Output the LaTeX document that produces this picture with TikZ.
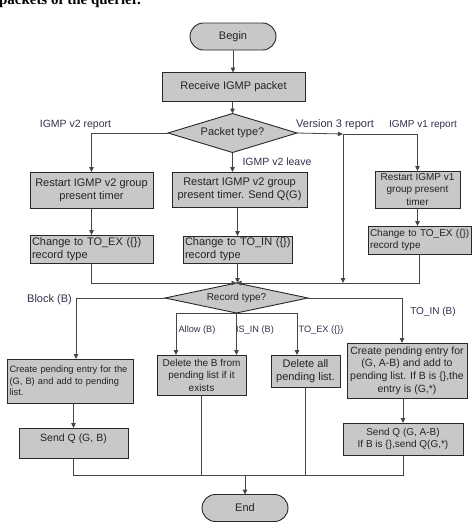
\documentclass[tikz,border=0pt]{standalone}
\usepackage{fontspec}
\setmainfont{Liberation Sans}
\newfontfamily\paperserif{Liberation Serif}
\usetikzlibrary{shapes.geometric,shapes.misc,arrows.meta,calc,shadows}
\definecolor{boxfill}{RGB}{200,200,200}
\definecolor{boxline}{RGB}{40,40,40}
\definecolor{wire}{RGB}{70,70,70}
\definecolor{txt}{RGB}{35,35,35}
\definecolor{labc}{RGB}{55,45,75}
\begin{document}
\begin{tikzpicture}[x=1pt,y=-1pt,
  every node/.style={inner sep=0pt,outer sep=0pt},
  fsa/.style={font=\fontsize{11}{13}\selectfont},
  fsb/.style={font=\fontsize{10.5}{12.7}\selectfont},
  fsc/.style={font=\fontsize{10}{12.5}\selectfont},
  fsd/.style={font=\fontsize{9.3}{11.5}\selectfont},
  fse/.style={font=\fontsize{9.2}{11}\selectfont},
  proc/.style={rectangle,draw=boxline,line width=0.9pt,fill=boxfill,text=txt,align=center,
    drop shadow={shadow xshift=0.9pt,shadow yshift=-0.9pt,opacity=1,fill=black!75}},
  term/.style={rounded rectangle,draw=boxline,line width=0.9pt,fill=boxfill,text=txt,fsa,
    minimum width=86pt,minimum height=27pt},
  dec/.style={diamond,draw=boxline,line width=0.9pt,fill=boxfill,text=txt,aspect=3.5},
  wireline/.style={draw=wire,line width=0.8pt},
  arr/.style={wireline,-{Triangle[length=5pt,width=4.5pt]}},
  lab/.style={text=labc},
]
\useasboundingbox (0,0) rectangle (474,523);

% cut-off line of the paper text above the figure
\node[anchor=base west,font=\paperserif\bfseries\fontsize{15}{17}\selectfont] (papertext) at (-1,4) {packets of the querier.};

% nodes
\node[term] (begin) at (233,36.5) {Begin};
\node[proc,fsa,minimum width=143pt,minimum height=29pt] (recv) at (233.5,87) {Receive IGMP packet};
\node[dec,fsa,minimum width=129pt,minimum height=39pt] (pt) at (232.5,133) {Packet type?};

\node[proc,fsa,minimum width=123pt,minimum height=36pt] (b1) at (91.5,190) {Restart IGMP v2 group\\present timer};
\node[proc,fsa,align=left,text width=119pt,inner xsep=2pt,minimum height=28pt] (b2) at (91.5,249) {\mbox{Change to TO\_EX (\{\})}\\record type};
\node[proc,fsa,minimum width=135pt,minimum height=35pt] (b3) at (239.5,189.5) {Restart IGMP v2 group\\present timer. Send Q(G)};
\node[proc,fsa,align=left,text width=105pt,inner xsep=2pt,minimum height=27pt] (b4) at (237.5,249.5) {\mbox{Change to TO\_IN (\{\})}\\record type};
\node[proc,fsc,minimum width=85pt,minimum height=37pt] (b5) at (417.5,189.5) {Restart IGMP v1\\group present\\timer};
\node[proc,fsc,align=left,text width=99pt,inner xsep=2pt,minimum height=28pt] (b6) at (419.5,240) {\mbox{Change to TO\_EX (\{\})}\\record type};

\node[dec,fsc,minimum width=143pt,minimum height=30pt] (rt) at (236.5,298) {Record type?};

\node[proc,fsd,align=left,text width=121pt,inner xsep=2.5pt,minimum height=44pt] (b7) at (70,381) {\mbox{Create pending entry for the}\\\mbox{(G, B) and add to pending}\\list.};
\node[proc,fsc,minimum width=89pt,minimum height=40pt] (b8) at (201.5,375) {Delete the B from\\pending list if it\\exists};
\node[proc,fsa,minimum width=69pt,minimum height=32pt] (b9) at (305.5,371) {Delete all\\pending list.};
\node[proc,fsb,minimum width=120pt,minimum height=55pt] (b10) at (407,370.5) {Create pending entry for\\(G, A-B) and add to\\pending list. If B is \{\},the\\entry is (G,*)};
\node[proc,fsb,minimum width=109pt,inner ysep=2pt,text height=11pt,text depth=15pt] (b11) at (73.5,443) {Send Q (G, B)};
\node[proc,fsc,minimum width=120pt,minimum height=32pt] (b12) at (403,439) {Send Q (G, A-B)\\If B is \{\},send Q(G,*)};
\node[term] (end) at (245,508) {End};

% branch labels
\node[lab,fsb] (l1) at (75.5,125) {IGMP v2 report};
\node[lab,fsb] (l2) at (277,162) {IGMP v2 leave};
\node[lab,fsa] (l3) at (335,125) {Version 3 report};
\node[lab,fsc] (l4) at (423,125) {IGMP v1 report};
\node[lab,fsa] (l5) at (49.5,300) {Block (B)};
\node[lab,fse] (l6) at (197,330) {Allow (B)};
\node[lab,fse] (l7) at (255,330) {IS\_IN (B)};
\node[lab,fse] (l8) at (321,330) {TO\_EX (\{\})};
\node[lab,fsc] (l9) at (433,312) {TO\_IN (B)};

% junction coordinates
\coordinate (v3) at (343,134);
\coordinate (ha) at (176,313);
\coordinate (hb) at (297,313);
\coordinate (hl) at (73.5,475);
\coordinate (hr) at (403,475);
\coordinate (m) at ($(end.north)+(0,-19)$);

% connectors
\draw[arr] (begin.south) -- (begin.south |- recv.north);
\draw[arr] (pt.north |- recv.south) -- (pt.north);
\draw[arr] (pt.west) -| (b1.north);
\draw[arr] (pt.south) -- (pt.south |- b3.north);
\draw[arr] (pt.east) -- (v3);
\draw[arr] (v3) -- (v3 |- rt.north);
\draw[arr] (v3) -| (b5.north);
\draw[arr] (b1.south) -- (b2.north);
\draw[arr] (b4.north |- b3.south) -- (b4.north);
\draw[arr] (b5.south) -- (b5.south |- b6.north);
\draw[arr] (b2.south) |- (rt.north);
\draw[arr] (b6.south) |- (rt.north);
\draw[arr] (b4.south) -- (b4.south |- rt.north);
\draw[arr] (rt.west) -| ($(b7.north)+(6,0)$);
\draw[arr] (rt.east) -| ($(b10.north)+(-5,0)$);
\draw[wireline] (ha) -- (hb);
\draw[arr] (ha) -- (ha |- b8.north);
\draw[arr] (rt.south) -- (rt.south |- b8.north);
\draw[arr] (hb) -- (hb |- b9.north);
\draw[arr] (b11.north |- b7.south) -- (b11.north);
\draw[arr] (b12.north |- b10.south) -- (b12.north);
\draw[wireline] (b11.south) -- (hl) -- (hr) -- (b12.south);
\draw[wireline] (b8.south) -- (b8.south |- hl);
\draw[wireline] (b9.south) -- (b9.south |- hl);
\draw[arr] (m) -- (end.north);
\end{tikzpicture}
\end{document}
